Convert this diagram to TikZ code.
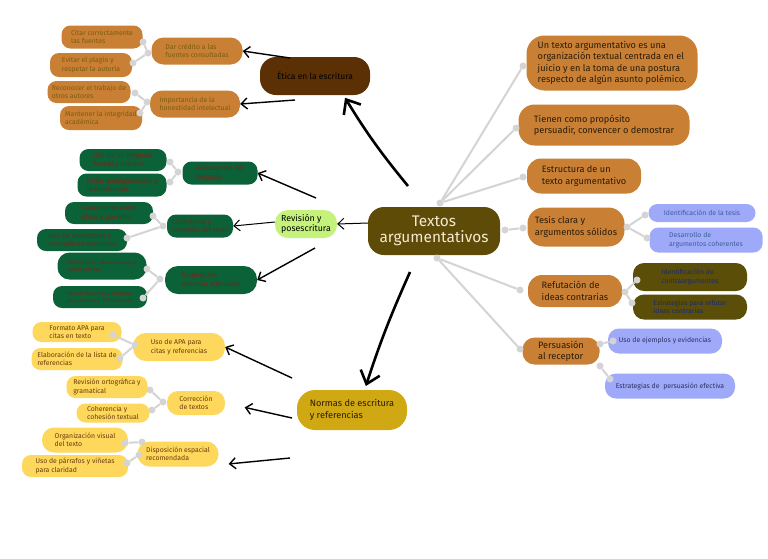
\documentclass[tikz,border=0pt]{standalone}
\usepackage{fontspec}
\setmainfont{Fira Sans}
\usepackage{tikz}
\usetikzlibrary{positioning}
\usetikzlibrary{arrows.meta}
\definecolor{ocre}{HTML}{C98035}
\definecolor{ocretext}{HTML}{2A1C08}
\definecolor{ocresoft}{HTML}{7A5C12}
\definecolor{olivecore}{HTML}{5E4B07}
\definecolor{coretext}{HTML}{F3EAD0}
\definecolor{brownbox}{HTML}{5C3005}
\definecolor{lilac}{HTML}{9EAAF9}
\definecolor{lilactext}{HTML}{3E5F95}
\definecolor{lilacdark}{HTML}{2D3160}
\definecolor{olivebox}{HTML}{5A4E08}
\definecolor{olivetext}{HTML}{1E2A6B}
\definecolor{pine}{HTML}{0B6138}
\definecolor{pinetext}{HTML}{6A2B1B}
\definecolor{lime}{HTML}{C4F27B}
\definecolor{gold}{HTML}{D0A813}
\definecolor{goldtext}{HTML}{2B1D00}
\definecolor{butter}{HTML}{FDD85D}
\definecolor{buttertext}{HTML}{6B3D0C}
\definecolor{linkgray}{HTML}{D4D4D4}
\tikzset{
  every node/.style={
    align=left,
    inner sep=0pt,
  },
  pill/.style={rounded corners=#1},
  pill/.default=9pt,
  sz/.style 2 args={minimum width=#1, minimum height=#2},
  tiny/.style={font=\fontsize{5.5}{7}\selectfont},
  small/.style={font=\fontsize{6.9}{8.3}\selectfont},
  mid/.style={font=\fontsize{9.2}{11.3}\selectfont},
  dot/.style={circle, fill=linkgray, minimum size=7pt},
  link/.style={draw=linkgray, line width=2pt},
  arr/.style={-{Straight Barb[length=6pt,width=11pt]}, line width=1.4pt},
  bigarr/.style={-{Straight Barb[length=12pt,width=20pt]}, line width=2.6pt},
}

\begin{document}
\begin{tikzpicture}[x=1pt, y=-1pt]
    \fill[white] (0,0) rectangle (768,558);
    \useasboundingbox (0,0) rectangle (768,558);

    \node[pill=16pt, fill=olivecore, text=coretext, sz={132}{48}, align=center,
      font=\fontsize{15.4}{16.5}\selectfont] (core) at (434,231) {Textos\\argumentativos};

    \node[pill=18pt, fill=ocre, text=ocretext, sz={171}{55}, mid] (def) at (612,63)
      {Un texto argumentativo es una\\organización textual centrada en el\\juicio y en la toma de una postura\\respecto de algún asunto polémico.};
    \node[pill=16pt, fill=ocre, text=ocretext, sz={171}{41}, mid] (prop) at (604,125)
      {Tienen como propósito\\persuadir, convencer o demostrar};
    \node[pill=14pt, fill=ocre, text=ocretext, sz={114}{35}, mid] (estr) at (584,176)
      {Estructura de un\\texto argumentativo};
    \node[pill=16pt, fill=ocre, text=ocretext, sz={97}{39}, mid] (tesis) at (576,227)
      {Tesis clara y\\argumentos sólidos};
    \node[pill=14pt, fill=ocre, text=ocretext, sz={94}{32}, mid] (refu) at (575,291)
      {Refutación de\\ideas contrarias};
    \node[pill=12pt, fill=ocre, text=ocretext, sz={77}{27}, mid] (pers) at (561,351)
      {Persuasión\\al receptor};

    \node[pill, fill=lilac, text=lilactext, sz={107}{18}, small] (idtes) at (702,213) {Identificación de la tesis};
    \node[pill, fill=lilac, text=lilactext, sz={113}{25}, small] (desa) at (706,240) {Desarrollo de\\argumentos coherentes};
    \node[pill=11pt, fill=lilac, text=lilacdark, sz={114}{25}, small] (ejem) at (665,341) {Uso de ejemplos y evidencias};
    \node[pill=11pt, fill=lilac, text=lilacdark, sz={130}{25}, small] (estp) at (670,386) {Estrategias de\ \ persuasión efectiva};
    \node[pill=11pt, fill=olivebox, text=olivetext, sz={114}{28}, small] (idcon) at (690,277) {Identificación de\\contraargumentos};
    \node[pill=11pt, fill=olivebox, text=olivetext, sz={114}{25}, small] (estr2) at (690,307) {Estrategias para refutar\\ideas contrarias};

    \node[pill=16pt, fill=brownbox, text=black, sz={110}{38}, font=\fontsize{8.5}{10}\selectfont] (etica) at (315,76) {Ética en la escritura};
    \node[pill=12pt, fill=ocre, text=ocresoft, sz={91}{27}, small] (dar) at (197,51) {Dar crédito a las\\fuentes consultadas};
    \node[pill=12pt, fill=ocre, text=ocresoft, sz={90}{27}, small] (hone) at (195,104) {Importancia de la\\honestidad intelectual};
    \node[pill, fill=ocre, text=ocresoft, sz={81}{23}, small] (citar) at (102,37) {Citar correctamente\\las fuentes};
    \node[pill, fill=ocre, text=ocresoft, sz={82}{24}, small] (plag) at (91,65) {Evitar el plagio y\\respetar la autoría};
    \node[pill, fill=ocre, text=ocresoft, sz={83}{22}, small] (reco) at (89,92) {Reconocer el trabajo de\\otros autores};
    \node[pill, fill=ocre, text=ocresoft, sz={82}{24}, small] (integ) at (101,118) {Mantener la integridad\\académica};

    \node[pill=13pt, fill=lime, text=black, sz={62}{28}, font=\fontsize{8.8}{10.8}\selectfont] (revi) at (306,224) {Revisión y\\posescritura};
    \node[pill, fill=pine, text=pinetext, sz={75}{23}, small] (adec) at (220,173) {Adecuación del\\lenguaje};
    \node[pill, fill=pine, text=pinetext, sz={66}{23}, small] (cohe) at (200,226) {Coherencia y\\cohesión del texto};
    \node[pill=13pt, fill=pine, text=pinetext, sz={92}{28}, small] (dispa) at (211,280) {Disposición\\espacial adecuada};
    \node[pill, fill=pine, text=pinetext, sz={87}{22}, small] (form) at (123,160) {Uso de un lenguaje\\formal y preciso};
    \node[pill, fill=pine, text=pinetext, sz={89}{23}, small] (ambi) at (122,185) {Evitar ambigüedades y\\redundancias};
    \node[pill, fill=pine, text=pinetext, sz={88}{22}, small] (conx) at (109,213) {Conexiones entre\\ideas y párrafos};
    \node[pill, fill=pine, text=pinetext, sz={90}{22}, small] (marc) at (82,240) {Uso de conectores y\\marcadores textuales};
    \node[pill=12pt, fill=pine, text=pinetext, sz={89}{27}, tiny] (secc) at (102,266) {Distribución de secciones y\\subsecciones};
    \node[pill, fill=pine, text=pinetext, sz={94}{22}, tiny] (negr) at (100,297) {Uso de negritas y cursivas\\para destacar información};

    \node[pill=18pt, fill=gold, text=goldtext, sz={110}{40}, mid] (norm) at (352,410) {Normas de escritura\\y referencias};
    \node[pill=13pt, fill=butter, text=buttertext, sz={92}{28}, small] (apa) at (179,347) {Uso de APA para\\citas y referencias};
    \node[pill=11pt, fill=butter, text=buttertext, sz={58}{24}, small] (corr) at (196,403) {Corrección\\de textos};
    \node[pill=12pt, fill=butter, text=buttertext, sz={81}{25}, small] (dispr) at (178,454) {Disposición espacial\\recomendada};
    \node[pill, fill=butter, text=buttertext, sz={89}{20}, small] (fapa) at (77,332) {Formato APA para\\citas en texto};
    \node[pill, fill=butter, text=buttertext, sz={91}{22}, small] (lista) at (77,359) {Elaboración de la lista de\\referencias};
    \node[pill, fill=butter, text=buttertext, sz={81}{22}, small] (orto) at (107,387) {Revisión ortográfica y\\gramatical};
    \node[pill, fill=butter, text=buttertext, sz={73}{19}, small] (cotx) at (113,413) {Coherencia y\\cohesión textual};
    \node[pill=12pt, fill=butter, text=buttertext, sz={86}{25}, small] (orgv) at (85,440) {Organización visual\\del texto};
    \node[pill, fill=butter, text=buttertext, sz={106}{22}, small] (parr) at (75,466) {Uso de párrafos y viñetas\\para claridad};

    \node[dot] (ct) at (440,203) {};
    \node[dot] (cb) at (437,258) {};
    \node[dot] (cr) at (505,230) {};
    \node[dot] (d1) at (523,66) {};
    \node[dot] (d2) at (516,128) {};
    \node[dot] (d3) at (523,177) {};
    \node[dot] (d4) at (523,228) {};
    \node[dot] (d5) at (520,290) {};
    \node[dot] (d6) at (520,349) {};
    \node[dot] (tj) at (627,227) {};
    \node[dot] (tb1) at (645,215) {};
    \node[dot] (tb2) at (647,238) {};
    \node[dot] (rj) at (625,292) {};
    \node[dot] (rb1) at (637,280) {};
    \node[dot] (rb2) at (632,303) {};
    \node[dot] (pj1) at (600,344) {};
    \node[dot] (pb1) at (613,341) {};
    \node[dot] (pj2) at (600,366) {};
    \node[dot] (pb2) at (610,379) {};
    \node[dot] (dj) at (148,53) {};
    \node[dot] (db1) at (143,42) {};
    \node[dot] (db2) at (133,63) {};
    \node[dot] (ij) at (147,102) {};
    \node[dot] (ib1) at (135,93) {};
    \node[dot] (ib2) at (140,113) {};
    \node[dot] (aj) at (178,172) {};
    \node[dot] (ab1) at (170,162) {};
    \node[dot] (ab2) at (170,182) {};
    \node[dot] (kj) at (163,226) {};
    \node[dot] (kb1) at (153,216) {};
    \node[dot] (kb2) at (127,238) {};
    \node[dot] (sj) at (160,279) {};
    \node[dot] (sb1) at (147,269) {};
    \node[dot] (sb2) at (143,298) {};
    \node[dot] (apj) at (135,345) {};
    \node[dot] (apb1) at (113,335) {};
    \node[dot] (apb2) at (120,358) {};
    \node[dot] (crj) at (163,402) {};
    \node[dot] (crb1) at (150,390) {};
    \node[dot] (crb2) at (152,410) {};
    \node[dot] (drj1) at (142,442) {};
    \node[dot] (drb1) at (125,443) {};
    \node[dot] (drj2) at (139,455) {};
    \node[dot] (drb2) at (127,463) {};

    \foreach \a/\b in {ct/d1, ct/d2, ct/d3, cr/d4, cb/d5, cb/d6,
        tj/tb1, tj/tb2, rj/rb1, rj/rb2, pj1/pb1, pj2/pb2,
        dj/db1, dj/db2, ij/ib1, ij/ib2, aj/ab1, aj/ab2, kj/kb1, kj/kb2,
        sj/sb1, sj/sb2, apj/apb1, apj/apb2, crj/crb1, crj/crb2,
        drj1/drb1, drj2/drb2}
      \draw[link] (\a) -- (\b);

    \coordinate (te) at (408,186);
    \coordinate (tn) at (410,272);
    \coordinate (tr) at (368,223);
    \coordinate (ta) at (316,198);
    \coordinate (tk) at (275,222);
    \coordinate (ts) at (315,248);
    \coordinate (tdar) at (290,58);
    \coordinate (thon) at (295,100);
    \coordinate (tapa) at (292,378);
    \coordinate (tcor) at (292,418);
    \coordinate (tdis) at (290,458);

    \draw[bigarr, shorten >=3pt] (te) to[bend left=4] (etica.-34);
    \draw[bigarr, shorten >=4pt] (tn) to[bend right=3] (norm.58);
    \draw[arr, line width=1pt] (tr) -- (revi.east);
    \draw[arr] (ta) -- (adec.east);
    \draw[arr, line width=1pt] (tk) -- (cohe.east);
    \draw[arr] (ts) -- (dispa.east);
    \draw[arr] (tdar) -- (dar.east);
    \draw[arr] (thon) -- (hone.east);
    \draw[arr] (tapa) -- (apa.east);
    \draw[arr, shorten >=20pt] (tcor) -- (corr.east);
    \draw[arr, shorten >=10pt] (tdis) -- (dispr.-15);
\end{tikzpicture}
\end{document}
